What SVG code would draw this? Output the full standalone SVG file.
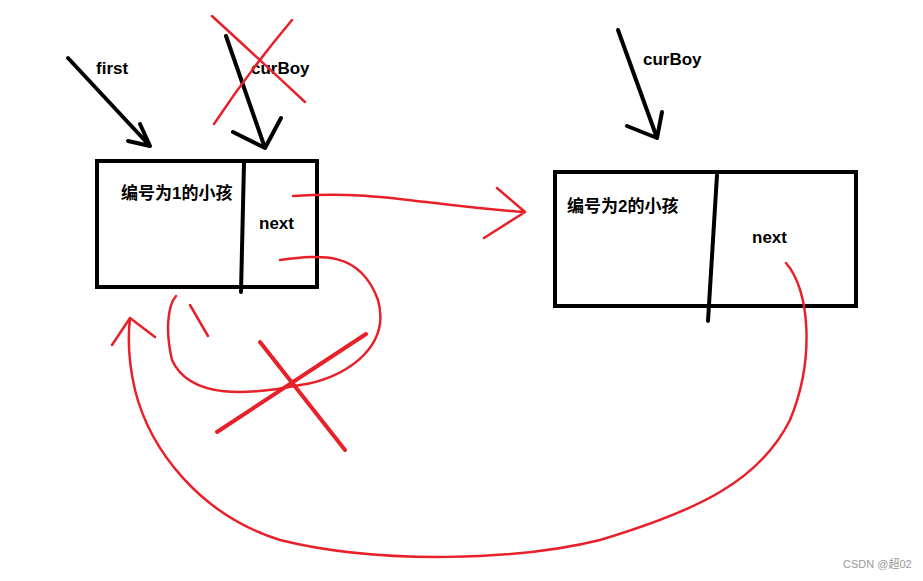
<svg xmlns="http://www.w3.org/2000/svg" width="923" height="581" viewBox="0 0 923 581">
<style>
.bx{fill:none;stroke:#000;stroke-width:4}
.bk{fill:none;stroke:#000;stroke-width:4;stroke-linecap:round;stroke-linejoin:round}
.rd{fill:none;stroke:#e8202a;stroke-width:2.5;stroke-linecap:round;stroke-linejoin:round}
.rx{fill:none;stroke:#e8202a;stroke-width:4;stroke-linecap:round}
.t{font-family:"Liberation Sans","Noto Sans CJK SC",sans-serif;font-weight:bold;font-size:17px;fill:#000}
.w{font-family:"Liberation Sans","Noto Sans CJK SC",sans-serif;font-size:11px;fill:#999}
</style>
<rect width="923" height="581" fill="#fff"/>
<g id="node1">
<rect class="bx" x="97" y="161" width="220" height="126"/>
<path class="bk" d="M244,163 L241,292"/>
<text class="t" x="121" y="199">编号为1的小孩</text>
<text class="t" x="259" y="229">next</text>
</g>
<g id="node2">
<rect class="bx" x="555" y="172" width="301" height="134"/>
<path class="bk" d="M717,175 L708,321"/>
<text class="t" x="567" y="212">编号为2的小孩</text>
<text class="t" x="752" y="243">next</text>
</g>
<g id="labels">
<text class="t" x="96" y="74">first</text>
<text class="t" x="251" y="74">curBoy</text>
<text class="t" x="643" y="65">curBoy</text>
</g>
<g id="connectors">
<path class="bk" d="M68,58 L150,146 M140,124 L150,146 L128,141"/>
<path class="bk" d="M226,36 L265,148 M233,132 L265,148 L281,118"/>
<path class="bk" d="M618,30 L657,138 M627,126 L657,138 L662,112"/>
<path class="rd" d="M212,16 Q260,60 305,102 M292,20 Q250,70 214,124"/>
<path class="rd" d="M293,196 C380,190 420,205 525,212 M497,188 L525,212 L484,238"/>
<path class="rd" d="M280,260 C320,255 360,250 378,300 C392,350 340,380 300,385 C250,395 190,400 172,360 C165,330 168,305 176,296 M190,305 L208,336"/>
<path class="rx" d="M217,432 L366,334 M260,342 L345,450"/>
<path class="rd" d="M786,263 C810,290 815,360 790,420 C760,480 700,510 600,540 C520,560 380,565 280,540 C200,515 150,450 135,390 C128,360 128,335 130,318 M112,345 L130,318 L155,337"/>
</g>
<text class="w" x="843" y="568">CSDN @超02</text>
</svg>
